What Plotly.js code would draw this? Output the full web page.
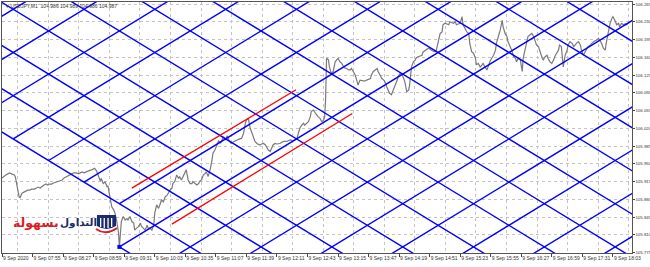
<!DOCTYPE html>
<html>
<head>
<meta charset="utf-8">
<script src="https://cdn.plot.ly/plotly-3.0.1.min.js"></script>
<style>html,body{margin:0;padding:0;background:#fff;}#chart{width:650px;height:267px;}</style>
</head>
<body>
<div id="chart"></div>
<script>
// ---- DATA (bar index = minutes after 07:23 on 9 Sep 2020) ----
const priceBars = [0,2,4,6,8,10,13,14,15,16,17,18,19,20,21,23,25,27,29,31,34,36,38,40,42,44,46,48,50,52,54,57,59,61,63,65,67,69,71,73,75,78,80,82,84,86,88,90,92,94,97,99,101,103,104,106,108,110,111,113,115,117,118,120,122,123,
124,125,127,129,131,132,134,136,138,139,141,143,145,146,148,150,152,153,155,157,159,160,162,164,166,167,169,171,173,174,176,178,179,181,183,185,186,188,190,192,193,195,197,199,200,202,204,206,207,209,211,213,214,216,218,220,221,223,
225,227,229,232,234,236,238,240,243,246,249,251,253,255,256,258,260,262,263,265,267,269,270,272,274,276,277,279,281,283,284,286,288,291,295,298,302,305,309,310,312,314,316,317,319,321,323,324,326,328,330,331,333,335,337,338,339,340,
342,343,345,347,349,351,352,354,356,358,359,361,363,365,366,368,370,372,373,375,377,379,380,382,384,386,387,389,391,393,394,396,398,400,401,403,405,406,408,410,412,414,415,417,419,420,422,424,426,427,429,431,433,434,436,438,440,441,443,445,447,448,450,452,454,455,457,459,461,462,464,466,468,469,
473,475,476,480,482,483,485,487,489,490,492,494,496,497,499,501,503,504,506,508,510,511,513,515,517,518,520,522,524,525,527,529,530,532,534,536,538,539,541,543,545,546,548,550,551,553,555,557,559,560,562,564,566,567,569,571,572,574,576,578,579,581,583,584,586,588,590,592,593,595,597,599,600,602,604,606,607,609,611,613,614,616,618,620,623,625,627,628,630,632,633,635,637,639,640,642,644,646,647,649,651,653,654,656,658];
const closePrices = [105.922,105.926,105.928,105.930,105.932,105.930,105.928,105.924,105.916,105.906,105.894,105.884,105.883,105.888,105.892,105.894,105.896,105.898,105.898,105.900,105.900,105.902,105.904,105.902,105.906,105.908,105.910,105.908,105.910,105.910,105.912,105.914,105.914,105.916,105.918,105.922,105.924,105.926,105.928,105.930,105.932,105.932,105.930,105.932,105.934,105.932,105.934,105.936,105.937,105.938,105.941,105.936,105.924,105.916,105.921,105.911,105.914,105.905,105.906,105.885,105.865,105.859,105.855,105.839,105.815,105.786,
105.815,105.836,105.846,105.839,105.842,105.839,105.846,105.836,105.833,105.819,105.823,105.826,105.833,105.827,105.823,105.819,105.829,105.823,105.823,105.819,105.829,105.852,105.869,105.862,105.872,105.879,105.875,105.885,105.888,105.892,105.898,105.902,105.911,105.915,105.928,105.921,105.925,105.918,105.928,105.934,105.938,105.918,105.911,105.911,105.915,105.911,105.908,105.911,105.915,105.918,105.928,105.931,105.934,105.925,105.938,105.957,105.971,105.977,
105.985,105.995,105.991,106.003,105.997,106.005,105.995,105.990,105.994,105.997,105.999,106.000,106.010,106.030,106.036,106.040,106.020,106.010,106.003,105.994,105.990,105.989,105.987,105.989,105.990,105.987,105.984,105.977,105.974,105.984,105.987,105.990,105.989,105.990,105.994,105.994,105.997,105.995,106.000,106.007,106.020,106.026,106.030,106.026,106.030,106.033,106.043,106.053,106.056,106.050,106.046,106.043,106.040,106.033,106.036,106.043,106.076,106.158,
106.155,106.141,106.128,106.132,106.151,106.155,106.158,106.151,106.148,106.141,106.139,106.138,106.135,106.135,106.138,106.132,106.125,106.112,106.105,106.115,106.114,106.112,106.113,106.115,106.117,106.118,106.125,106.132,106.135,106.138,106.132,106.125,106.118,106.115,106.112,106.102,106.095,106.089,106.086,106.095,106.105,106.115,106.122,106.128,106.125,106.122,106.112,106.092,106.095,106.105,106.141,106.151,106.155,106.159,106.161,106.162,106.164,106.170,106.174,106.176,106.178,106.176,106.174,106.172,106.171,106.174,106.191,106.207,106.210,106.224,106.227,106.226,106.224,106.230,
106.227,106.230,106.224,106.227,106.240,106.224,106.217,106.210,106.207,106.188,106.171,106.168,106.158,106.145,106.148,106.141,106.145,106.148,106.141,106.135,106.145,106.151,106.158,106.164,106.174,106.188,106.201,106.214,106.233,106.220,106.207,106.201,106.191,106.184,106.174,106.161,106.158,106.151,106.158,106.155,106.132,106.158,106.174,106.188,106.201,106.204,106.207,106.201,106.188,106.184,106.181,106.168,106.158,106.155,106.161,106.164,106.158,106.151,106.148,106.155,106.161,106.168,106.174,106.184,106.181,106.141,106.164,106.174,106.184,106.191,106.188,106.181,106.184,106.188,106.191,106.184,106.174,106.164,106.171,106.178,106.181,106.184,106.188,106.191,106.194,106.197,106.191,106.188,106.178,106.174,106.188,106.210,106.227,106.237,106.240,106.233,106.224,106.227,106.220,106.227,106.224,106.226,106.224,106.227,106.230];

const timeTickBars = [0,32,64,96,128,160,192,224,256,288,320,352,384,416,448,480,512,544,576,608,640];
const timeTickLabels = ["9 Sep 2020","9 Sep 07:55","9 Sep 08:27","9 Sep 08:59","9 Sep 09:31","9 Sep 10:03","9 Sep 10:35","9 Sep 11:07","9 Sep 11:39","9 Sep 12:11","9 Sep 12:43","9 Sep 13:15","9 Sep 13:47","9 Sep 14:19","9 Sep 14:51","9 Sep 15:23","9 Sep 15:55","9 Sep 16:27","9 Sep 16:59","9 Sep 17:31","9 Sep 18:03"];
const priceTicks = [105.775,105.810,105.845,105.880,105.915,105.950,105.985,106.020,106.055,106.090,106.125,106.160,106.195,106.230,106.265];

// Gann grid: anchor point and half-step (bars, price)
const gannAnchorBar = [123];
const gannAnchorPrice = [105.786];
const gannStepBars = [37.1];
const gannStepPrice = [0.0426];

// Red channel lines: [start, end]
const redUpperBars = [136, 308];
const redUpperPrices = [105.902, 106.096];
const redLowerBars = [178, 367];
const redLowerPrices = [105.831, 106.049];

const headerText = "▾ USDJPY,M1  104.986 104.989 104.986 104.987";

// ---- build Gann grid lines ----
const bA = gannAnchorBar[0], pA = gannAnchorPrice[0];
const hb = gannStepBars[0], hp = gannStepPrice[0], sl = hp / hb;
const X_END = 700;
const gx = [], gy = [];
for (let k = -20; k <= 20; k++) {
  const c = bA + 2 * k * hb;
  const xs = (k <= -1) ? bA + (k + 1) * hb : bA;
  gx.push(xs, X_END, null); gy.push(pA + sl * (xs - c), pA + sl * (X_END - c), null);
  const xd = (k >= 1) ? -60 : bA;
  gx.push(xd, X_END, null); gy.push(pA - sl * (xd - c), pA - sl * (X_END - c), null);
}

const traces = [
  {x: priceBars, y: closePrices, type: 'scatter', mode: 'lines',
   line: {color: '#7a7a7a', width: 1.2}, hoverinfo: 'skip'},
  {x: gx, y: gy, type: 'scatter', mode: 'lines', connectgaps: false,
   line: {color: '#0000ff', width: 1.4}, hoverinfo: 'skip'},
  {x: redUpperBars, y: redUpperPrices, type: 'scatter', mode: 'lines',
   line: {color: '#ff0000', width: 1.3}, hoverinfo: 'skip'},
  {x: redLowerBars, y: redLowerPrices, type: 'scatter', mode: 'lines',
   line: {color: '#ff0000', width: 1.3}, hoverinfo: 'skip'},
  {x: gannAnchorBar, y: gannAnchorPrice, type: 'scatter', mode: 'markers',
   marker: {color: '#0000ff', size: 4, symbol: 'square'}, hoverinfo: 'skip'}
];

// pixel -> paper helpers for decorative elements
const L = 2, R = 632, T = 2, B = 253;
const px = v => (v - L) / (R - L);
const py = v => (B - v) / (B - T);

const tickFont = {family: 'Liberation Sans, Arial, sans-serif', size: 5, color: '#333'};

const layout = {
  width: 650, height: 267,
  margin: {l: 2, r: 18, t: 2, b: 14, pad: 0},
  paper_bgcolor: '#ffffff', plot_bgcolor: '#ffffff',
  showlegend: false,
  font: {family: 'Liberation Sans, Arial, sans-serif', size: 5, color: '#333'},
  xaxis: {
    range: [0, 660], autorange: false,
    tickmode: 'array', tickvals: timeTickBars, ticktext: timeTickLabels,
    tickangle: 0,
    ticks: 'outside', ticklen: 3, tickcolor: '#444', tickwidth: 1,
    ticklabelposition: 'outside right',
    tickfont: tickFont,
    showgrid: false, zeroline: false,
    showline: true, linecolor: '#555', linewidth: 1, mirror: true,
    minor: {tickmode: 'linear', tick0: 16.5, dtick: 32, showgrid: true,
            gridcolor: '#c4c4c4', griddash: 'dot', gridwidth: 1, ticks: ''}
  },
  yaxis: {
    range: [105.774, 106.269], autorange: false, side: 'right',
    tickmode: 'array', tickvals: priceTicks,
    ticktext: priceTicks.map(v => v.toFixed(3)),
    ticks: 'outside', ticklen: 1.5, tickcolor: '#444',
    ticklabelstandoff: 0,
    tickfont: {family: 'Liberation Sans, Arial, sans-serif', size: 4.4, color: '#333'},
    showgrid: true, gridcolor: '#c4c4c4', griddash: 'dot', gridwidth: 1,
    zeroline: false, showline: true, linecolor: '#555', linewidth: 1, mirror: true
  },
  annotations: [
    {xref: 'paper', yref: 'paper', x: px(4), y: py(6), xanchor: 'left', yanchor: 'middle',
     text: headerText, showarrow: false, font: {family: 'Liberation Sans, Arial, sans-serif', size: 5, color: '#333'}},
    {xref: 'paper', yref: 'paper', x: px(36), y: py(222), xanchor: 'center', yanchor: 'middle',
     text: 'بسهولة', showarrow: false,
     font: {family: 'DejaVu Sans', size: 12.5, color: '#d71f26', weight: 'bold'}},
    {xref: 'paper', yref: 'paper', x: px(78), y: py(222), xanchor: 'center', yanchor: 'middle',
     text: 'التداول', showarrow: false,
     font: {family: 'DejaVu Sans', size: 10.5, color: '#1d2b6b', weight: 'bold'}}
  ],
  shapes: [
    {type: 'path', xref: 'paper', yref: 'paper',
     path: `M${px(97)},${py(215)} L${px(116)},${py(215)} L${px(116)},${py(226)} Q${px(106.5)},${py(232)} ${px(97)},${py(226)} Z`,
     fillcolor: '#1d2b6b', line: {width: 0}},
    {type: 'rect', xref: 'paper', yref: 'paper', x0: px(100), x1: px(101.3), y0: py(227), y1: py(218), fillcolor: '#ffffff', line: {width: 0}},
    {type: 'rect', xref: 'paper', yref: 'paper', x0: px(103.6), x1: px(104.9), y0: py(228), y1: py(218), fillcolor: '#ffffff', line: {width: 0}},
    {type: 'rect', xref: 'paper', yref: 'paper', x0: px(107.4), x1: px(108.7), y0: py(228), y1: py(218), fillcolor: '#ffffff', line: {width: 0}},
    {type: 'rect', xref: 'paper', yref: 'paper', x0: px(111), x1: px(112.3), y0: py(227), y1: py(218), fillcolor: '#ffffff', line: {width: 0}},
    {type: 'path', xref: 'paper', yref: 'paper',
     path: `M${px(96)},${py(229)} Q${px(106)},${py(236)} ${px(117)},${py(228)}`,
     line: {color: '#d71f26', width: 2}}
  ]
};

Plotly.newPlot('chart', traces, layout, {staticPlot: true, displayModeBar: false});
</script>
</body>
</html>
